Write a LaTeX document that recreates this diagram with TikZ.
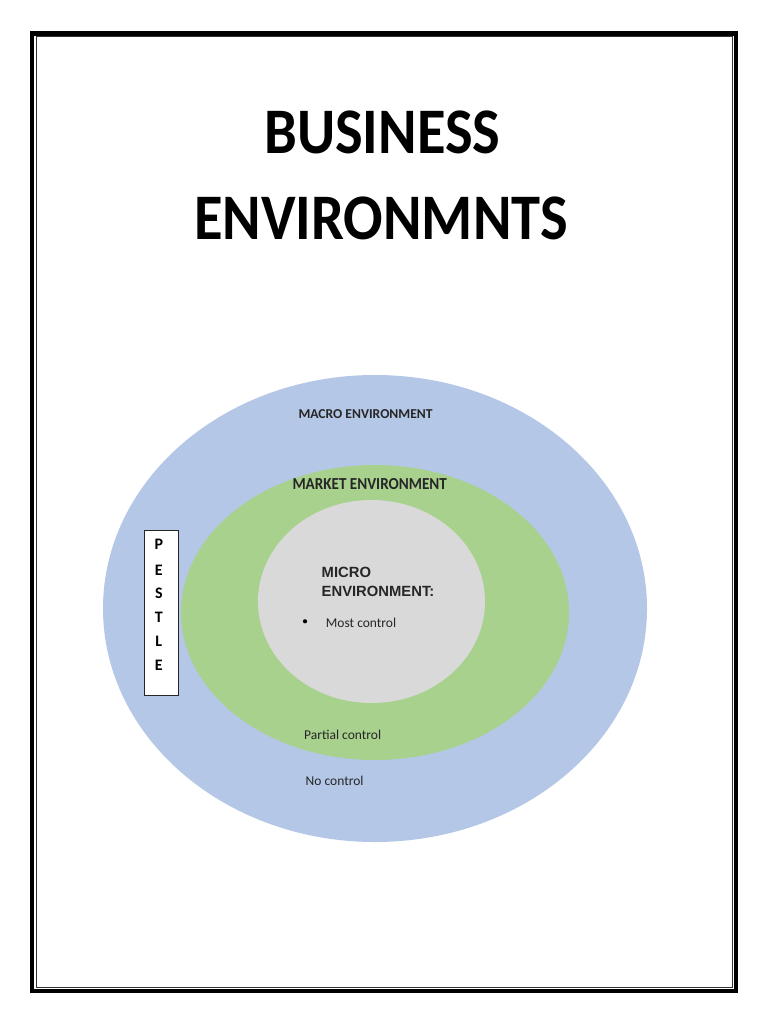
\documentclass[tikz,border=0pt]{standalone}
\usepackage{fontspec}
\setmainfont{Carlito}
\newfontfamily\arialf{Liberation Sans}
\newfontfamily\narrowf[FakeStretch=0.9]{Carlito}
\usetikzlibrary{shapes.geometric}
\definecolor{macroblue}{HTML}{B4C7E7}
\definecolor{marketgreen}{HTML}{A9D18E}
\definecolor{microgray}{HTML}{D9D9D9}
\tikzset{
  ring/.style={ellipse, draw=none, inner sep=0pt},
  lbl/.style={anchor=base west, inner sep=0pt, text=black!85},
  letter/.style={anchor=base, inner sep=0pt, font=\fontsize{16}{16}\selectfont\bfseries},
  titletext/.style={anchor=base, inner sep=0pt, font=\narrowf\fontsize{65}{65}\selectfont\bfseries},
}
\begin{document}
\begin{tikzpicture}[x=1pt,y=-1pt]
\useasboundingbox[fill=white] (0,0) rectangle (768,1024);
% page border
\draw[line width=4.5pt] (32.2,33.4) rectangle (735.8,990.8);
\draw[line width=0.9pt, black!80] (36,36.8) rectangle (732.8,987.4);
% title
\node[titletext] (t1) at (382.2,153.5) {BUSINESS};
\node[titletext] (t2) at (381,240) {ENVIRONMNTS};
% ellipses
\node[ring, fill=macroblue, minimum width=544pt, minimum height=467pt] (macro) at (375,608.5) {};
\node[ring, fill=marketgreen, minimum width=388pt, minimum height=295pt] (market) at (375,612.5) {};
\node[ring, fill=microgray, minimum width=227pt, minimum height=203pt] (micro) at (371.5,601.5) {};
% labels
\node[lbl, font=\fontsize{13.6}{13.6}\selectfont\bfseries] (macrolbl) at (298.3,418.5) {MACRO ENVIRONMENT};
\node[lbl, font=\narrowf\fontsize{16.8}{16.8}\selectfont\bfseries] (marketlbl) at (292.3,489.3) {MARKET ENVIRONMENT};
\node[lbl, font=\arialf\fontsize{14.8}{14.8}\selectfont\bfseries] (microlbl1) at (321.5,577.3) {MICRO};
\node[lbl, font=\arialf\fontsize{14.8}{14.8}\selectfont\bfseries] (microlbl2) at (321.5,596.7) {ENVIRONMENT:};
\node[circle, fill=black, inner sep=0pt, minimum size=4.2pt] (bullet) at (305,621.3) {};
\node[lbl, font=\fontsize{13.5}{13.5}\selectfont] (most) at (325.7,627.3) {Most control};
\node[lbl, font=\fontsize{13.5}{13.5}\selectfont] (partial) at (304,739) {Partial control};
\node[lbl, font=\fontsize{13.5}{13.5}\selectfont] (nocontrol) at (305.5,785.7) {No control};
% PESTLE box
\node[draw=black!85, fill=white, line width=0.9pt, inner sep=0pt, minimum width=34.4pt, minimum height=165.7pt] (pestle) at (161.5,612.9) {};
\node[letter] (lp) at (158.8,549.3) {P};
\node[letter] (le1) at (158.8,575) {E};
\node[letter] (ls) at (158.8,598.5) {S};
\node[letter] (lt) at (158.8,622.3) {T};
\node[letter] (ll) at (158.8,646) {L};
\node[letter] (le2) at (158.8,670) {E};
\end{tikzpicture}
\end{document}
